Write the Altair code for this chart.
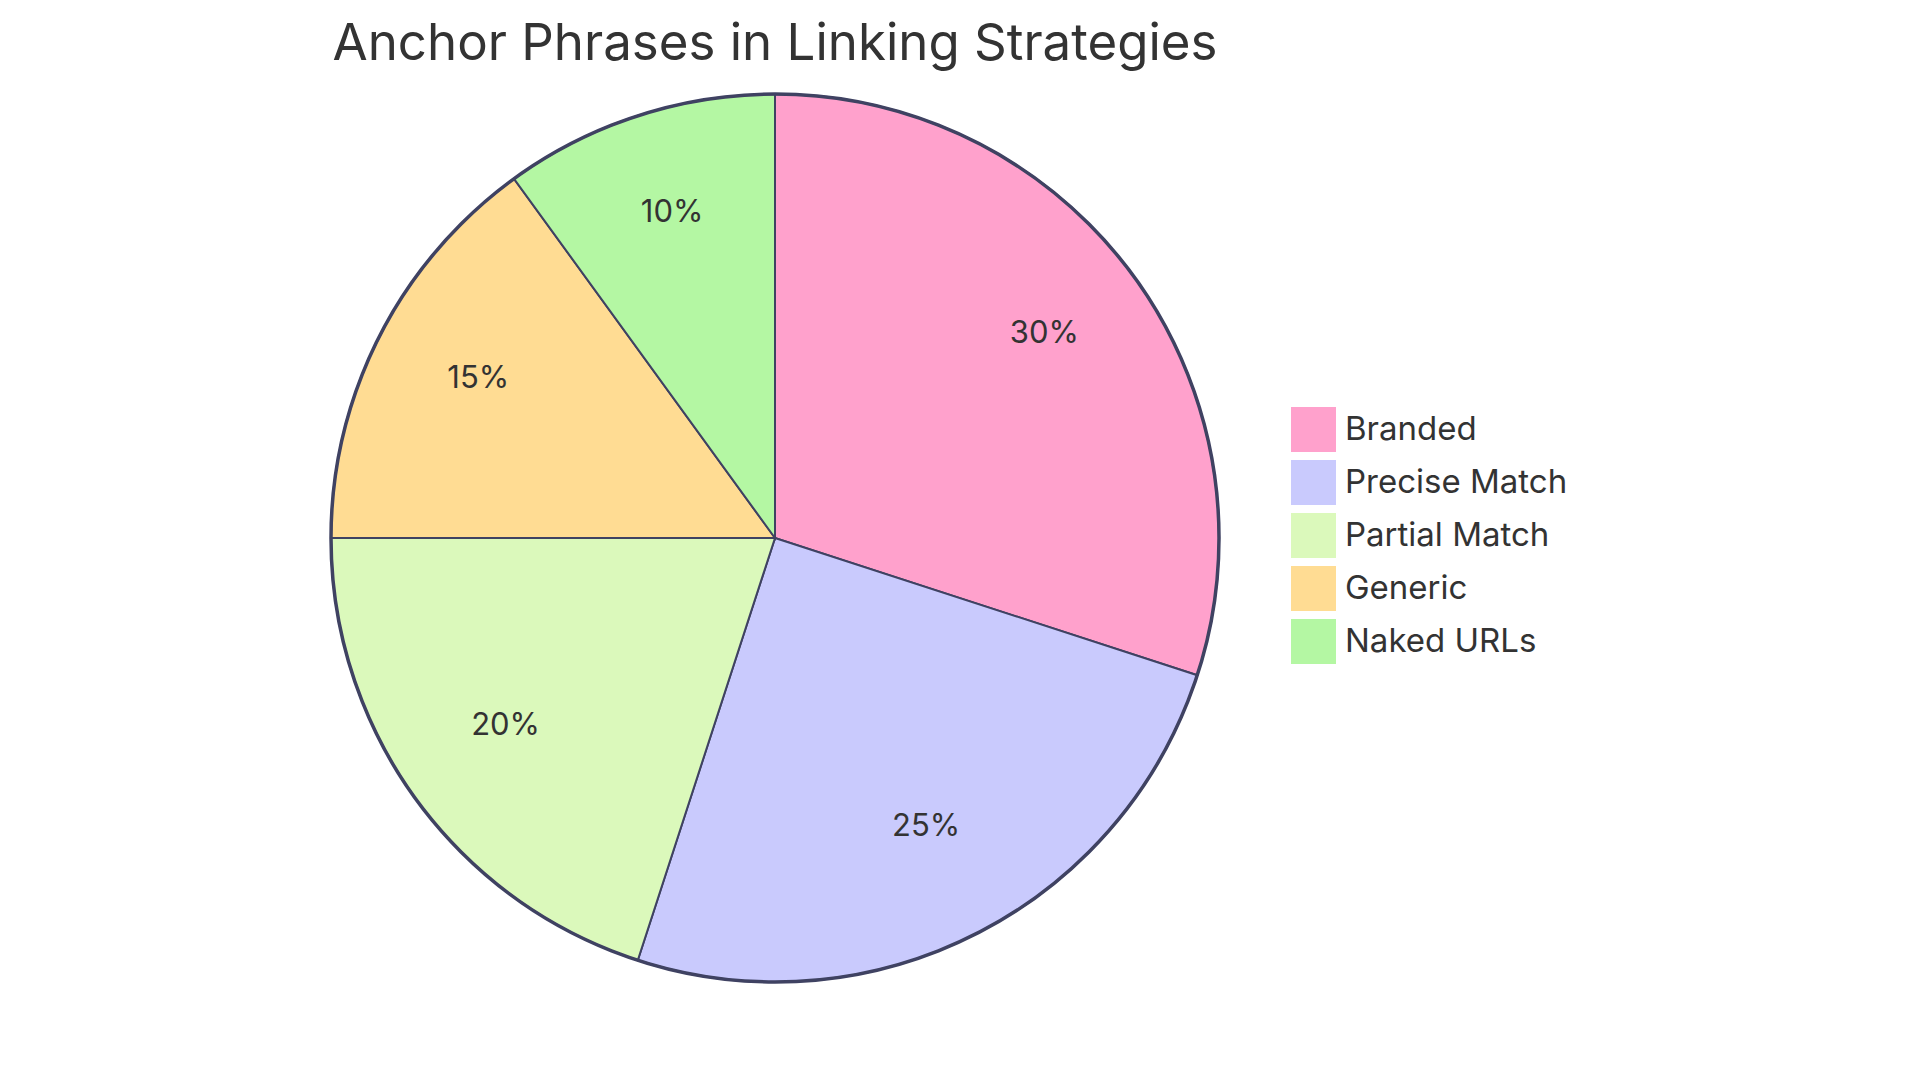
import altair as alt
import pandas as pd

categories = ["Branded", "Precise Match", "Partial Match", "Generic", "Naked URLs"]
values = [30, 25, 20, 15, 10]
colors = ["#FFA1CC", "#C9CAFD", "#DBF9BB", "#FFDC93", "#B4F7A3"]

df = pd.DataFrame({"category": categories, "value": values, "order": list(range(len(values)))})
df["label"] = [f"{v}%" for v in values]
total_df = pd.DataFrame({"total": [sum(values)]})

W, H = 1524, 930
R = 444
FONT = "Inter"
STROKE = "#3f4262"

base = alt.Chart(df).encode(
    theta=alt.Theta("value:Q", stack=True),
    order=alt.Order("order:Q"),
)

color = alt.Color(
    "category:N",
    scale=alt.Scale(domain=categories, range=colors),
    sort=categories,
    legend=alt.Legend(
        title=None,
        orient="none",
        legendX=1278,
        legendY=334,
        symbolType="square",
        symbolSize=2025,
        symbolStrokeWidth=0,
        labelFontSize=33,
        labelFont=FONT,
        labelColor="#333333",
        labelLimit=0,
        rowPadding=8,
        labelOffset=9,
    ),
)

arcs = base.mark_arc(radius=R, stroke=STROKE, strokeWidth=2).encode(color=color)

outline = alt.Chart(total_df).mark_arc(
    radius=R, fill="#ffffff", fillOpacity=0, stroke=STROKE, strokeWidth=3.5
).encode(theta=alt.Theta("total:Q"))

labels = base.mark_text(
    radius=R * 0.75, fontSize=31, font=FONT, color="#333333", dy=-8
).encode(text="label:N")

chart = (
    alt.layer(arcs, outline, labels)
    .properties(
        width=W,
        height=H,
        padding={"top": 11, "left": 5, "right": 5, "bottom": 5},
        title=alt.Title(
            "Anchor Phrases in Linking Strategies",
            fontSize=51,
            font=FONT,
            fontWeight="normal",
            color="#333333",
            anchor="middle",
            offset=2,
        ),
    )
    .configure_view(stroke=None)
)

chart.save("out.html", embed_options={"renderer": "svg", "actions": False})
